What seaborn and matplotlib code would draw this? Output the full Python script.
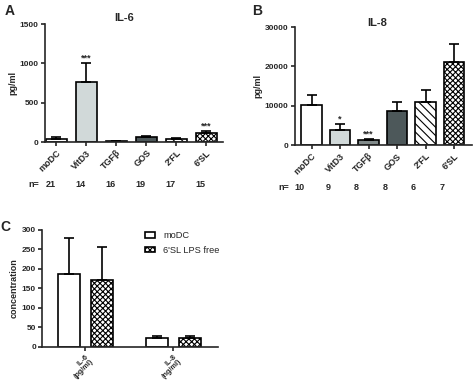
import numpy as np
import pandas as pd
import matplotlib
matplotlib.use('Agg')
import matplotlib.pyplot as plt
import seaborn as sns
from matplotlib.patches import Patch

sns.set_style('ticks')
plt.rcParams['font.family'] = ['Liberation Sans', 'DejaVu Sans']
plt.rcParams['hatch.linewidth'] = 0.8

# data
cats = ['moDC', 'VitD3', 'TGFβ', 'GOS', "2'FL", "6'SL"]
il6_mean = [45, 770, 10, 60, 45, 115]
il6_err = [15, 230, 5, 15, 10, 30]
il6_n = [21, 14, 16, 19, 17, 15]
il6_stars = ['', '***', '', '', '', '***']

il8_mean = [10200, 3900, 1300, 8600, 11000, 21200]
il8_err = [2600, 1400, 300, 2300, 3100, 4500]
il8_n = [10, 9, 8, 8, 6, 7]
il8_stars = ['', '*', '***', '', '', '']

c_cats = ['IL-6\n(pg/ml)', 'IL-8\n(ng/ml)']
c_groups = ['moDC', "6'SL LPS free"]
c_moDC = [187, 22]
c_moDC_err = [93, 5]
c_6sl = [172, 22]
c_6sl_err = [83, 5]

colors = ['white', '#cfdbdb', '#7f8b8c', '#4b5a5c', 'white', 'white']
hatches = ['', '', '', '', '\\\\\\\\', 'xxxxxx']

fig = plt.figure(figsize=(4.74, 3.82), dpi=100)
axA = fig.add_axes([0.095, 0.628, 0.375, 0.309])
axB = fig.add_axes([0.622, 0.620, 0.373, 0.309])
axC = fig.add_axes([0.089, 0.092, 0.371, 0.306])


def style_axis(ax, xsize=6.5):
    sns.despine(ax=ax)
    for s in ['left', 'bottom']:
        ax.spines[s].set_linewidth(1.2)
    ax.tick_params(axis='both', direction='out', length=3, width=1.2, pad=1.5)
    ax.tick_params(axis='y', labelsize=6)
    ax.tick_params(axis='x', labelsize=xsize)
    for lab in ax.get_yticklabels() + ax.get_xticklabels():
        lab.set_fontweight('bold')


def cytokine_panel(ax, means, errs, ns, stars, ylim, ticks, noff, xlim, ny):
    df = pd.DataFrame({'cat': cats, 'val': means})
    sns.barplot(data=df, x='cat', y='val', hue='cat', palette=colors,
                legend=False, ax=ax, edgecolor='black', linewidth=1.2,
                width=0.72, errorbar=None)
    for p, h in zip(ax.patches, hatches):
        p.set_hatch(h)
    x = np.arange(len(cats))
    ax.errorbar(x, means, yerr=[np.zeros(len(x)), errs], fmt='none',
                ecolor='black', elinewidth=1.2, capsize=3.5, capthick=1.2)
    for xi, m, e, s in zip(x, means, errs, stars):
        if s:
            ax.text(xi, m + e + ylim * 0.005, s, ha='center', va='bottom',
                    fontsize=6.5, fontweight='bold')
    ax.set_ylim(0, ylim)
    ax.set_yticks(ticks)
    ax.set_xlim(*xlim)
    ax.set_xlabel('')
    ax.set_ylabel('pg/ml', fontsize=6.5, fontweight='bold', labelpad=2)
    ax.set_xticks(x)
    ax.set_xticklabels(cats, rotation=45, ha='right', rotation_mode='anchor')
    style_axis(ax)
    trans = ax.get_xaxis_transform()
    ax.text(x[0] + noff - 0.38, ny, 'n=', transform=trans, ha='right',
            va='center', fontsize=6.5, fontweight='bold')
    for xi, n in zip(x, ns):
        ax.text(xi + noff, ny, str(n), transform=trans, ha='center',
                va='center', fontsize=6.5, fontweight='bold')


cytokine_panel(axA, il6_mean, il6_err, il6_n, il6_stars, 1500,
               [0, 500, 1000, 1500], -0.2, (-0.38, 5.55), -0.36)
cytokine_panel(axB, il8_mean, il8_err, il8_n, il8_stars, 30000,
               [0, 10000, 20000, 30000], -0.42, (-0.59, 5.62), -0.36)

# panel C
dfc = pd.DataFrame({'cat': c_cats * 2,
                    'group': [c_groups[0]] * 2 + [c_groups[1]] * 2,
                    'val': c_moDC + c_6sl})
sns.barplot(data=dfc, x='cat', y='val', hue='group',
            palette=['white', 'white'], ax=axC, edgecolor='black',
            linewidth=1.2, width=0.75, gap=1 / 3, errorbar=None)
for p in axC.patches[2:4]:
    p.set_hatch('xxxxxx')
xc = np.arange(len(c_cats))
axC.errorbar(xc - 0.1875, c_moDC, yerr=[np.zeros(2), c_moDC_err], fmt='none',
             ecolor='black', elinewidth=1.2, capsize=3.5, capthick=1.2)
axC.errorbar(xc + 0.1875, c_6sl, yerr=[np.zeros(2), c_6sl_err], fmt='none',
             ecolor='black', elinewidth=1.2, capsize=3.5, capthick=1.2)
axC.set_ylim(0, 300)
axC.set_yticks(np.arange(0, 301, 50))
axC.set_xlim(-0.49, 1.51)
axC.set_xlabel('')
axC.set_ylabel('concentration', fontsize=6.5, fontweight='bold', labelpad=2)
axC.set_xticks(xc)
axC.set_xticklabels(c_cats, rotation=45, ha='right', rotation_mode='anchor',
                    linespacing=0.95)
axC.legend_.remove()
handles = [Patch(facecolor='white', edgecolor='black', linewidth=1.2),
           Patch(facecolor='white', edgecolor='black', linewidth=1.2,
                 hatch='xxxxxx')]
axC.legend(handles, c_groups, loc='upper left', bbox_to_anchor=(0.585, 0.99),
           frameon=False, fontsize=6.7, handlelength=1.1, handleheight=0.55,
           labelspacing=0.6, handletextpad=0.85, borderpad=0,
           borderaxespad=0)
style_axis(axC, xsize=5.2)

# titles and panel letters
fig.text(0.262, 0.952, 'IL-6', ha='center', va='center', fontsize=8,
         fontweight='bold')
fig.text(0.795, 0.94, 'IL-8', ha='center', va='center', fontsize=8,
         fontweight='bold')
fig.text(0.01, 0.97, 'A', ha='left', va='center', fontsize=10,
         fontweight='bold')
fig.text(0.532, 0.97, 'B', ha='left', va='center', fontsize=10,
         fontweight='bold')
fig.text(0.0, 0.405, 'C', ha='left', va='center', fontsize=10,
         fontweight='bold')

fig.savefig('out.png', dpi=100)
